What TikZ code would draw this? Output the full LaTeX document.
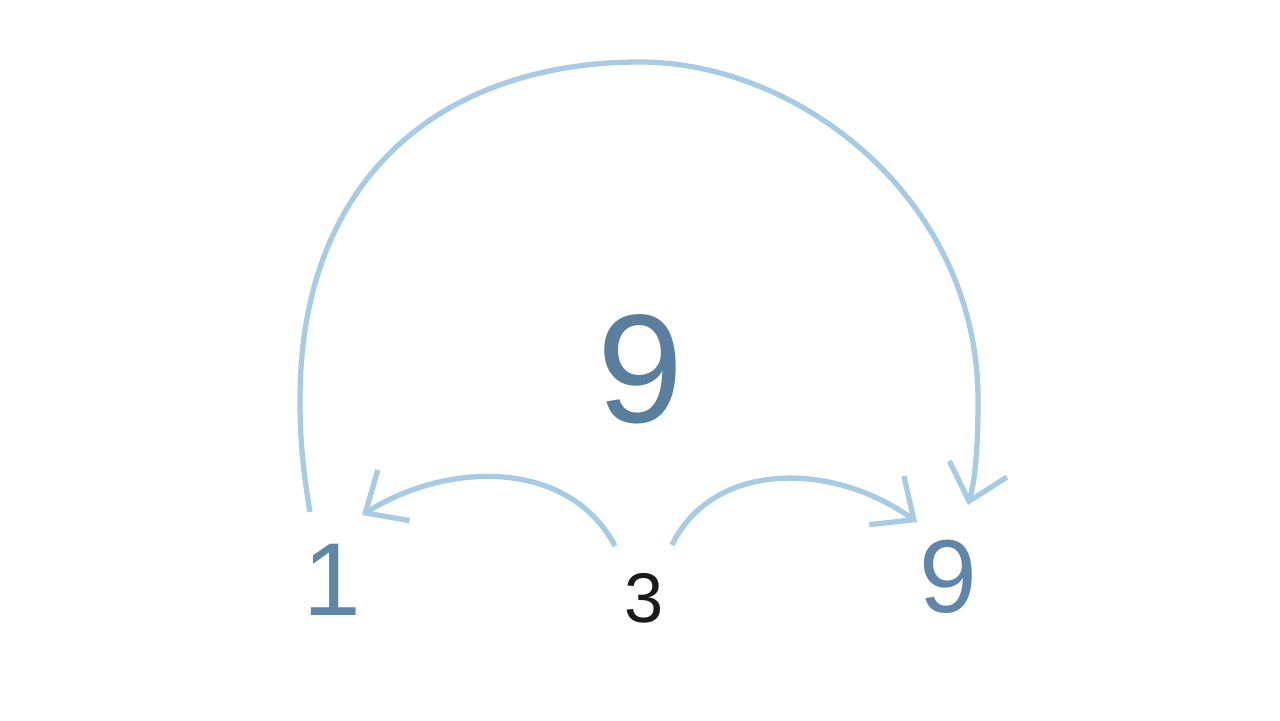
\documentclass[tikz,border=0pt]{standalone}
\usepackage{fontspec}
\setmainfont{Liberation Sans}
\usetikzlibrary{arrows.meta}
\definecolor{arrowblue}{HTML}{A6CBE3}
\definecolor{numblue}{HTML}{5F86A8}
\definecolor{bignum}{HTML}{5A7E9D}
\definecolor{darknum}{HTML}{1A1A1A}
\tikzset{
  conn/.style={draw=arrowblue, line width=3pt, line cap=butt,
    -{Straight Barb[length=19pt, width=34pt, line width=3pt]}},
  plainconn/.style={draw=arrowblue, line width=3pt, line cap=butt},
  num/.style={inner sep=0pt, text=numblue, font=\fontsize{59}{60}\selectfont},
}
\begin{document}
\begin{tikzpicture}[x=0.02cm, y=-0.02cm]
\useasboundingbox[fill=white] (0,0) rectangle (1280,720);
\node[inner sep=0pt, text=bignum, font=\fontsize{88}{90}\selectfont] (big) at (640,369) {9};
\node[num] (one) at (332,580) {1};
\node[num] (nine) at (948,577) {9};
\node[inner sep=0pt, text=darknum, font=\fontsize{40}{41}\selectfont] (three) at (644,598) {3};
\coordinate (bigS) at (310,512);
\coordinate (bigL) at (300,400);
\coordinate (bigT) at (640,62);
\coordinate (bigR) at (978,400);
\coordinate (bigE) at (968,505);
\coordinate (lS) at (615,546);
\coordinate (lE) at (362,515);
\coordinate (rS) at (672,545);
\coordinate (rE) at (917,522);
\draw[conn] (bigS) .. controls (303,470) and (300,440) .. (bigL)
  .. controls (300,170) and (450,62) .. (bigT)
  .. controls (800,62) and (978,200) .. (bigR)
  .. controls (978,450) and (975,480) .. (bigE);
\draw[conn] (lS) .. controls (570,460) and (450,460) .. (lE);
\draw[conn] (rS) .. controls (712,462) and (830,460) .. (rE);
\end{tikzpicture}
\end{document}
